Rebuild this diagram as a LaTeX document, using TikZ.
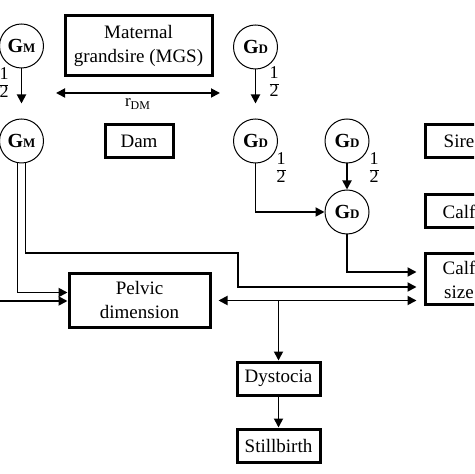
\documentclass[tikz,border=0pt]{standalone}
\usepackage{fontspec}
\setmainfont{Liberation Serif}
\usetikzlibrary{arrows.meta,positioning}
\newcommand{\halffrac}{{\fontsize{9}{9}\selectfont\renewcommand{\arraystretch}{0.9}\begin{tabular}{@{}c@{}}1\\\hline 2\end{tabular}}}
\newcommand{\gsym}[1]{\textbf{G{\fontsize{6.5}{7}\selectfont #1}}}

\begin{document}
\begin{tikzpicture}[x=0.5pt,y=-0.5pt,font=\fontsize{9.5}{12}\selectfont]
  \useasboundingbox (0,0) rectangle (474,474);
  \clip (0,0) rectangle (474,474);

	 \tikzstyle{gene}=[circle,draw,line width=0.5pt,minimum size=22pt,inner sep=0pt,font=\fontsize{10}{11}\selectfont]
	 \tikzstyle{trait}=[rectangle,draw,line width=1.5pt,align=center,inner sep=0pt]
	 \tikzstyle{halfnode}=[inner sep=0pt]
	 \tikzstyle{link}=[draw,line width=0.9pt,-{Triangle[length=4.5pt,width=4.5pt]}]
	 \tikzstyle{twoway}=[draw,line width=0.9pt,{Triangle[length=4.5pt,width=4.5pt]}-{Triangle[length=4.5pt,width=4.5pt]}]

	 % genes
	 \node[gene] (gmA) at (21.5,46) {\gsym{M}};
	 \node[gene] (gdA) at (255.5,47) {\gsym{D}};
	 \node[gene] (gmB) at (21.5,141) {\gsym{M}};
	 \node[gene] (gdB) at (255.5,141) {\gsym{D}};
	 \node[gene] (gdC) at (347,141) {\gsym{D}};
	 \node[gene] (gdD) at (347,212) {\gsym{D}};

	 % traits and animals
	 \node[trait,minimum width=73.5pt,minimum height=30pt] (mgs) at (138.5,46) {Maternal\\grandsire (MGS)};
	 \node[trait,minimum width=34pt,minimum height=16.5pt] (dam) at (139,141.5) {Dam};
	 \node[trait,minimum width=34pt,minimum height=16.5pt] (sire) at (459,141.5) {Sire};
	 \node[trait,minimum width=34pt,minimum height=16.5pt] (calf) at (459,211.5) {Calf};
	 \node[trait,minimum width=34pt,minimum height=25.5pt] (size) at (459,279.5) {Calf\\size};
	 \node[trait,minimum width=70.5pt,minimum height=27pt] (pel) at (139.5,300.5) {Pelvic\\dimension};
	 \node[trait,minimum width=41.5pt,minimum height=16.5pt] (dys) at (278.5,378.5) {Dystocia};
	 \node[trait,minimum width=41.5pt,minimum height=16.5pt] (still) at (278.5,445.5) {Stillbirth};

	 % path coefficients
	 \node[halfnode] (hA) at (4,85) {\halffrac};
	 \node[halfnode] (hB) at (274,84) {\halffrac};
	 \node[halfnode] (hC) at (281,170) {\halffrac};
	 \node[halfnode] (hD) at (374,170) {\halffrac};

	 \coordinate (rl) at (56,93);
	 \coordinate (rr) at (220,93);
	 \draw[twoway] (rl) -- (rr);
	 \node[inner sep=0pt,font=\fontsize{8.5}{9}\selectfont] (rdm) at (138,104) {r\textsubscript{DM}};

	 \coordinate (bend) at (238,253);
	 \coordinate (inL) at (-10,301);

	 \draw[link,shorten >=7.5pt] (gmA) -- (gmB);
	 \draw[link,shorten >=7.5pt] (gdA) -- (gdB);
	 \draw[link] (gdB) |- (gdD);
	 \draw[link] (gdC) -- (gdD);
	 \draw[link,shorten >=3.5pt] (gdD) |- ([yshift=3.75pt]size.west);
	 \draw[link] ([xshift=-2pt]gmB.south) |- ([yshift=4pt]pel.west);
	 \draw[link,shorten >=3.5pt] ([xshift=2pt]gmB.south) |- (bend) |- ([yshift=-3.75pt]size.west);
	 \draw[link] (inL) -- (inL -| pel.west);
	 \draw[twoway,shorten <=3.5pt,shorten >=3.5pt] (pel.east) -- (pel.east -| size.west);
	 \draw[link] (dys.north |- pel.east) -- (dys);
	 \draw[link] (dys) -- (still);

\end{tikzpicture}
\end{document}
